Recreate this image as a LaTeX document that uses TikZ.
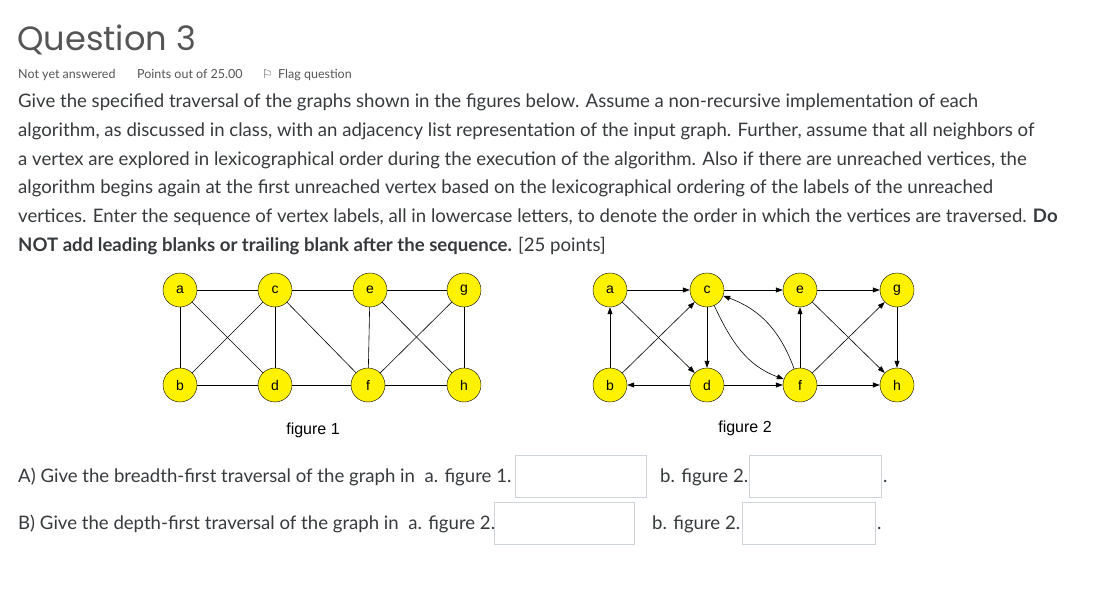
\documentclass[tikz,border=0pt]{standalone}
\usepackage{fontspec}
\setmainfont{Lato}
\newfontfamily\titlefont{Poppins}[Scale=0.95]
\newfontfamily\arial{Liberation Sans}
\newfontfamily\dejavu{DejaVu Sans}
\usetikzlibrary{arrows.meta}
\definecolor{txt}{HTML}{373A3C}
\definecolor{meta}{HTML}{555555}
\definecolor{boxc}{HTML}{CED4DA}
\begin{document}
\begin{tikzpicture}[x=1pt,y=-1pt,
  vtx/.style={circle,draw=black,fill=yellow,minimum size=34pt,inner sep=0pt,font=\arial\fontsize{14}{14}\selectfont},
  ed/.style={draw=black,line width=0.6pt},
  ar/.style={ed,-{Triangle[length=7pt,width=5pt]}},
  line/.style={anchor=base west,inner sep=0pt,text=txt,font=\fontsize{18.6}{21}\selectfont},
  ansbox/.style={draw=boxc,line width=0.8pt}]
\useasboundingbox (0,0) rectangle (1105,593);
\fill[white] (0,0) rectangle (1105,593);
\node[anchor=base west,inner sep=0pt,text=meta,font=\titlefont\fontsize{35.4}{38}\selectfont] (title) at (17,51) {Question 3};
\node[anchor=base west,inner sep=0pt,text=meta,font=\fontsize{12.5}{14}\selectfont] (m1) at (18,79) {Not yet answered};
\node[anchor=base west,inner sep=0pt,text=meta,font=\fontsize{12.5}{14}\selectfont] (m2) at (137,79) {Points out of 25.00};
\node[anchor=base west,inner sep=0pt,text=meta,font=\dejavu\fontsize{12}{14}\selectfont] (m3) at (262,79) {⚐};
\node[anchor=base west,inner sep=0pt,text=meta,font=\fontsize{12.5}{14}\selectfont] (m4) at (278,79) {Flag question};
\node[line] (l1) at (18,108) {Give the specified traversal of the graphs shown in the figures below. Assume a non-recursive implementation of each};
\node[line] (l2) at (18,137) {algorithm, as discussed in class, with an adjacency list representation of the input graph. Further, assume that all neighbors of};
\node[line] (l3) at (18,166) {a vertex are explored in lexicographical order during the execution of the algorithm. Also if there are unreached vertices, the};
\node[line] (l4) at (18,194) {algorithm begins again at the first unreached vertex based on the lexicographical ordering of the labels of the unreached};
\node[line] (l5) at (18,223) {vertices. Enter the sequence of vertex labels, all in lowercase letters, to denote the order in which the vertices are traversed. \textbf{Do}};
\node[line] (l6) at (18,252) {\textbf{NOT add leading blanks or trailing blank after the sequence.} [25 points]};
% figure 1
\node[vtx] (a) at (180,290) {a};
\node[vtx] (c) at (275,290) {c};
\node[vtx] (e) at (370,290) {e};
\node[vtx] (g) at (464,290) {g};
\node[vtx] (b) at (180,385) {b};
\node[vtx] (d) at (275,385) {d};
\node[vtx] (f) at (368,385) {f};
\node[vtx] (h) at (464,385) {h};
\foreach \u/\v in {a/c,c/e,e/g,a/b,a/d,c/b,c/d,c/f,e/f,e/h,g/f,g/h,b/d,d/f,f/h}
  \draw[ed] (\u) -- (\v);
\node[anchor=base,inner sep=0pt,font=\arial\fontsize{16}{17}\selectfont] (fig1) at (313,434) {figure 1};
% figure 2
\node[vtx] (A) at (610,290) {a};
\node[vtx] (C) at (707,290) {c};
\node[vtx] (E) at (800,290) {e};
\node[vtx] (G) at (897,290) {g};
\node[vtx] (B) at (610,385) {b};
\node[vtx] (D) at (707,385) {d};
\node[vtx] (F) at (800,385) {f};
\node[vtx] (H) at (897,385) {h};
\foreach \u/\v in {A/C,C/E,E/G,B/A,B/C,A/D,C/D,D/B,D/F,F/E,F/G,E/H,G/H,F/H}
  \draw[ar] (\u) -- (\v);
\draw[ar] (C) to[out=-65,in=160] (F);
\draw[ar] (F) to[out=110,in=-20] (C);
\node[anchor=base,inner sep=0pt,font=\arial\fontsize{16}{17}\selectfont] (fig2) at (745,432) {figure 2};
% answers
\node[line] (qa) at (18,482) {A) Give the breadth-first traversal of the graph in\ \ a. figure 1.};
\draw[ansbox] (515,455) rectangle (646,497);
\node[line] (qa2) at (660,482) {b. figure 2.};
\draw[ansbox] (749,455) rectangle (881,497);
\node[line] (dot1) at (883,482) {.};
\node[line] (qb) at (18,529) {B) Give the depth-first traversal of the graph in\ \ a. figure 2.};
\draw[ansbox] (494,502) rectangle (634,544);
\node[line] (qb2) at (652,529) {b. figure 2.};
\draw[ansbox] (742,502) rectangle (875,544);
\node[line] (dot2) at (877,529) {.};
\end{tikzpicture}
\end{document}
